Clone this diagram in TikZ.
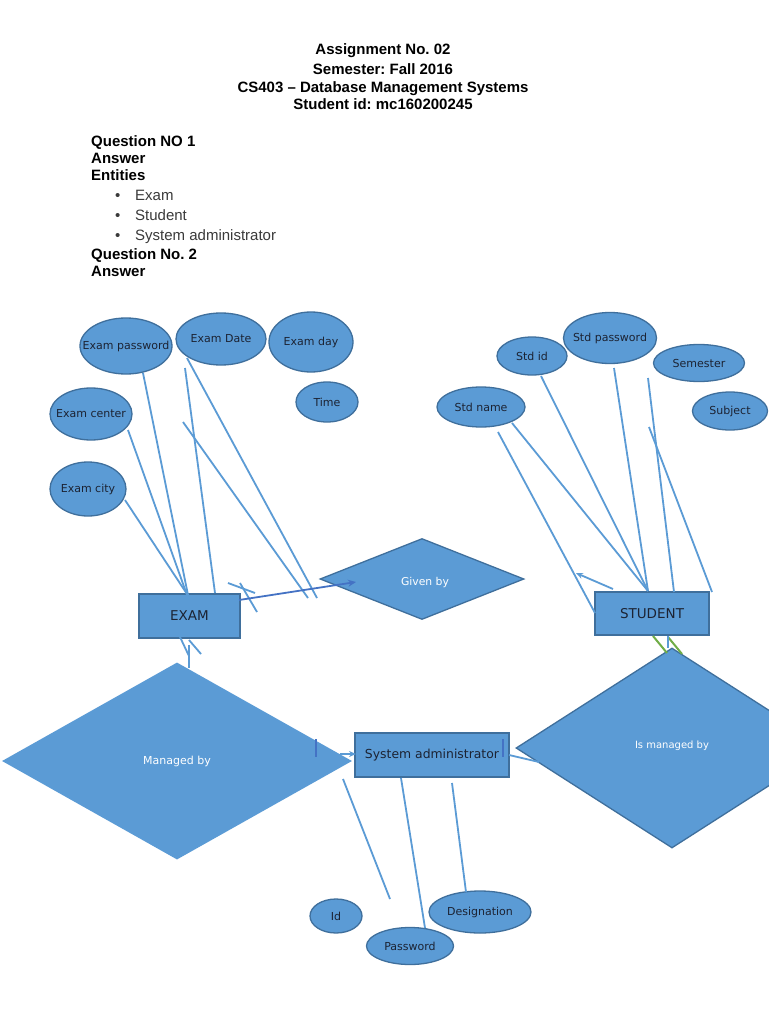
\documentclass[tikz,border=0pt]{standalone}
\usepackage{fontspec}
\setmainfont{Liberation Sans}
\newfontfamily\dvfont{DejaVu Sans}
\usetikzlibrary{shapes.geometric,arrows.meta}
\definecolor{fillb}{HTML}{5B9BD5}
\definecolor{edgeb}{HTML}{3F6F9C}
\definecolor{lineb}{HTML}{5B9BD5}
\definecolor{arrb}{HTML}{4472C4}
\definecolor{grn}{HTML}{70AD47}
\definecolor{txt}{HTML}{1C2333}
\definecolor{itemtxt}{HTML}{3A3A3A}
\frenchspacing
\begin{document}
\begin{tikzpicture}[x=1pt,y=-1pt,
  hdr/.style={anchor=base,inner sep=0pt,font=\bfseries\fontsize{15}{18}\selectfont},
  lefttxt/.style={anchor=base west,inner sep=0pt,font=\bfseries\fontsize{15}{18}\selectfont},
  itemtxt/.style={anchor=base west,inner sep=0pt,text=itemtxt,font=\fontsize{15}{18}\selectfont},
  attr/.style={ellipse,draw=edgeb,fill=fillb,line width=1.3pt,inner sep=0pt,text=txt,font=\dvfont\fontsize{11}{13}\selectfont},
  ent/.style={rectangle,draw=edgeb,fill=fillb,line width=1.6pt,inner sep=0pt,text=txt},
  rel/.style={diamond,fill=fillb,inner sep=0pt,text=white,font=\dvfont\fontsize{11}{13}\selectfont},
  conn/.style={draw=lineb,line width=1.8pt},
  tick/.style={draw=arrb,line width=1.4pt},
  greenln/.style={draw=grn,line width=2pt},
  tipped/.style={draw=lineb,line width=1.8pt,-{Stealth[length=7pt,width=6pt]}},
  darktipped/.style={draw=arrb,line width=1.8pt,-{Stealth[length=8pt,width=7pt]}}
]
\useasboundingbox (0,0) rectangle (768,1024);
\fill[white] (0,0) rectangle (768,1024);

% ---------- header text ----------
\node[hdr] (t1) at (383,55) {Assignment No. 02};
\node[hdr] (t2) at (383,74.5) {Semester: Fall 2016};
\node[hdr] (t3) at (383,92.5) {CS403 -- Database Management Systems};
\node[hdr] (t4) at (383,110) {Student id: mc160200245};

\node[lefttxt] (q1) at (91,146.5) {Question NO 1};
\node[lefttxt] (a1) at (91,164) {Answer};
\node[lefttxt] (en) at (91,181) {Entities};
\node[itemtxt] (d1) at (115,201) {\textbullet};
\node[itemtxt] (i1) at (135,201) {Exam};
\node[itemtxt] (d2) at (115,220.5) {\textbullet};
\node[itemtxt] (i2) at (135,220.5) {Student};
\node[itemtxt] (d3) at (115,240.5) {\textbullet};
\node[itemtxt] (i3) at (135,240.5) {System administrator};
\node[lefttxt] (q2) at (91,259) {Question No. 2};
\node[lefttxt] (a2) at (91,276.5) {Answer};

% ---------- relationships ----------
\node[rel,draw=edgeb,line width=1.3pt,minimum width=204,minimum height=81] (given) at (422,579) {};
\node[text=white,inner sep=0pt,font=\dvfont\fontsize{10.8}{13}\selectfont] (givenlbl) at (425,583) {Given by};
\node[rel,minimum width=350,minimum height=197] (managed) at (177,761) {};
\node[text=white,inner sep=0pt,font=\dvfont\fontsize{11}{13}\selectfont] (managedlbl) at (177,761) {Managed by};
\node[rel,draw=edgeb,line width=1.3pt,minimum width=312,minimum height=200] (ismanaged) at (672,748) {};
\node[text=white,inner sep=0pt,font=\dvfont\fontsize{10}{12}\selectfont] (ismanagedlbl) at (672,746) {Is managed by};

% ---------- entities ----------
\node[ent,minimum width=101,minimum height=44,font=\dvfont\fontsize{13.5}{16}\selectfont] (exam) at (189.5,616) {EXAM};
\node[ent,minimum width=114,minimum height=43,font=\dvfont\fontsize{13.5}{16}\selectfont] (student) at (652,613.5) {STUDENT};
\node[ent,minimum width=154,minimum height=44,font=\dvfont\fontsize{12.4}{15}\selectfont] (sysadm) at (432,755) {System administrator};

% ---------- attributes ----------
\node[attr,minimum width=92,minimum height=56] (epw) at (126,346) {\makebox[0pt]{Exam password}};
\node[attr,minimum width=90,minimum height=52] (edate) at (221,339) {\makebox[0pt]{Exam Date}};
\node[attr,minimum width=84,minimum height=60] (eday) at (311,342) {\makebox[0pt]{Exam day}};
\node[attr,minimum width=62,minimum height=40] (etime) at (327,402) {\makebox[0pt]{Time}};
\node[attr,minimum width=82,minimum height=52] (ecenter) at (91,414) {\makebox[0pt]{Exam center}};
\node[attr,minimum width=76,minimum height=54] (ecity) at (88,489) {\makebox[0pt]{Exam city}};

\node[attr,minimum width=70,minimum height=38] (sid) at (532,356) {\makebox[0pt]{Std id}};
\node[attr,minimum width=93,minimum height=51] (spw) at (610,338) {\makebox[0pt]{Std password}};
\node[attr,minimum width=91,minimum height=37] (ssem) at (699,363) {\makebox[0pt]{Semester}};
\node[attr,minimum width=75,minimum height=38] (ssub) at (730,411) {\makebox[0pt]{Subject}};
\node[attr,minimum width=88,minimum height=40] (sname) at (481,407) {\makebox[0pt]{Std name}};

\node[attr,minimum width=52,minimum height=34] (aid) at (336,916) {\makebox[0pt]{Id}};
\node[attr,minimum width=87,minimum height=37] (apw) at (410,946) {\makebox[0pt]{Password}};
\node[attr,minimum width=102,minimum height=42] (adesig) at (480,912) {\makebox[0pt]{Designation}};

% ---------- connector end points ----------
\coordinate (p1) at (143,373);  \coordinate (p1e) at (188,595);
\coordinate (p2) at (128,430);  \coordinate (p2e) at (187,595);
\coordinate (p3) at (125,500);  \coordinate (p3e) at (187,594);
\coordinate (p4) at (185,368);  \coordinate (p4e) at (215,593);
\coordinate (p5) at (187,358);  \coordinate (p5e) at (317,598);
\coordinate (p6) at (183,422);  \coordinate (p6e) at (308,598);
\coordinate (p7) at (228,583);  \coordinate (p7e) at (255,593);
\coordinate (p8) at (240,583);  \coordinate (p8e) at (257,612);
\coordinate (ga) at (239,600);  \coordinate (gae) at (356,582);
\coordinate (m1) at (180,637);  \coordinate (m1e) at (189,656);
\coordinate (m2) at (189,640);  \coordinate (m2e) at (201,654);
\coordinate (m3) at (189,645);  \coordinate (m3e) at (189,668);

\coordinate (r1) at (512,423);  \coordinate (r1e) at (648,591);
\coordinate (r2) at (498,432);  \coordinate (r2e) at (595,613);
\coordinate (r3) at (541,376);  \coordinate (r3e) at (648,591);
\coordinate (r4) at (614,368);  \coordinate (r4e) at (648,591);
\coordinate (r5) at (648,378);  \coordinate (r5e) at (674,592);
\coordinate (r6) at (649,427);  \coordinate (r6e) at (712,592);
\coordinate (sa) at (613,589);  \coordinate (sae) at (576,573);
\coordinate (g1) at (653,636);  \coordinate (g1e) at (667,653);
\coordinate (g2) at (668,637);  \coordinate (g2e) at (682,654);
\coordinate (v1) at (668,636);  \coordinate (v1e) at (668,648);

\coordinate (k1) at (316,739);  \coordinate (k1e) at (316,757);
\coordinate (ma) at (340,754);  \coordinate (mae) at (356,754);
\coordinate (k2) at (503,739);  \coordinate (k2e) at (503,757);
\coordinate (im) at (509,755);  \coordinate (ime) at (539,762);
\coordinate (b1) at (343,779);  \coordinate (b1e) at (390,899);
\coordinate (b2) at (401,778);  \coordinate (b2e) at (425,928);
\coordinate (b3) at (452,783);  \coordinate (b3e) at (466,892);

% ---------- connectors ----------
\draw[conn] (p1) -- (p1e);
\draw[conn] (p2) -- (p2e);
\draw[conn] (p3) -- (p3e);
\draw[conn] (p4) -- (p4e);
\draw[conn] (p5) -- (p5e);
\draw[conn] (p6) -- (p6e);
\draw[conn] (p7) -- (p7e);
\draw[conn] (p8) -- (p8e);
\draw[darktipped] (ga) -- (gae);
\draw[conn] (m1) -- (m1e);
\draw[conn] (m2) -- (m2e);
\draw[conn] (m3) -- (m3e);

\draw[conn] (r1) -- (r1e);
\draw[conn] (r2) -- (r2e);
\draw[conn] (r3) -- (r3e);
\draw[conn] (r4) -- (r4e);
\draw[conn] (r5) -- (r5e);
\draw[conn] (r6) -- (r6e);
\draw[tipped] (sa) -- (sae);
\draw[greenln] (g1) -- (g1e);
\draw[greenln] (g2) -- (g2e);
\draw[conn] (v1) -- (v1e);

\draw[tick] (k1) -- (k1e);
\draw[tipped] (ma) -- (mae);
\draw[tick] (k2) -- (k2e);
\draw[conn] (im) -- (ime);
\draw[conn] (b1) -- (b1e);
\draw[conn] (b2) -- (b2e);
\draw[conn] (b3) -- (b3e);
\end{tikzpicture}
\end{document}
